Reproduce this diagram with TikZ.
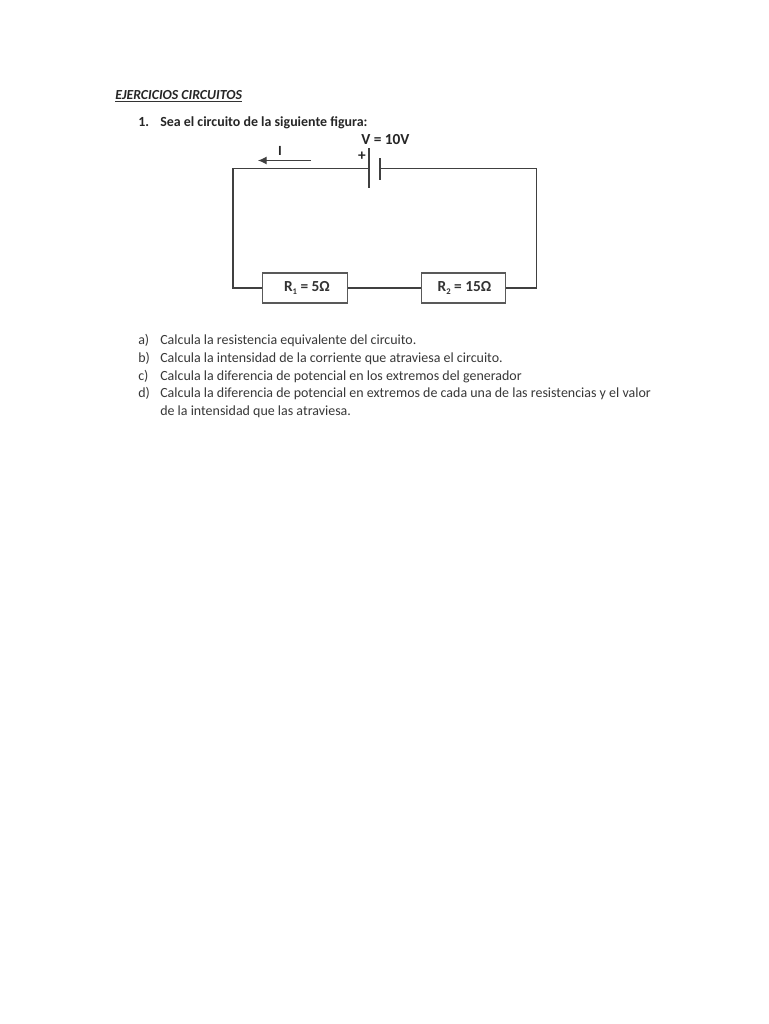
\documentclass[tikz,border=0pt]{standalone}
\usepackage{fontspec}
\setmainfont{Carlito}
\usetikzlibrary{arrows.meta}
\newcommand{\subnum}[1]{\raisebox{-0.35ex}{\fontsize{6.5}{8}\selectfont #1}}
\tikzset{
  x=0.75pt, y=-0.75pt,
  wire/.style={draw=black!75, line width=0.8pt},
  resbox/.style={draw=black!65, line width=0.8pt, fill=white, minimum width=63.5pt, minimum height=22.5pt, inner sep=0pt, font=\fontsize{11.5}{13}\selectfont\bfseries, text=black!80},
  body/.style={anchor=base west, inner sep=0pt, font=\fontsize{10.48}{13}\selectfont, text=black!78},
  head/.style={anchor=base west, inner sep=0pt, font=\fontsize{10.45}{13}\selectfont\bfseries, text=black!85},
  lab/.style={anchor=base, inner sep=0pt, text=black!85, font=\fontsize{11.5}{13}\selectfont\bfseries}
}
\begin{document}
\begin{tikzpicture}
\useasboundingbox (0,0) rectangle (768,1024);
\fill[white] (0,0) rectangle (768,1024);
% headings
\node[head,font=\fontsize{10.35}{13}\selectfont\bfseries\itshape] (title) at (115,99) {EJERCICIOS CIRCUITOS};
\draw[black!80,line width=0.7pt] ([yshift=-2.2pt]title.base west) -- ([yshift=-2.2pt]title.base east);
\node[head] (n1) at (138,126) {1.};
\node[head] (q1) at (160,126) {Sea el circuito de la siguiente figura:};
% circuit
\node[lab,anchor=base west] (volt) at (361,144) {V = 10V};
\node[lab] (plus) at (362,160) {+};
\node[lab,font=\fontsize{10.5}{11}\selectfont\bfseries] (cur) at (280,155) {I};
\node[resbox] (r1) at (305,288) {\hspace{3pt}R\subnum{1} = 5Ω};
\node[resbox] (r2) at (463.5,288) {\hspace{1.5pt}\raisebox{0.9pt}{R\subnum{2} = 15Ω}};
\coordinate (tl) at (233,168.5);
\coordinate (tr) at (536.5,168.5);
\coordinate (bl) at (233,288);
\coordinate (br) at (536.5,288);
\coordinate (bp1) at (369,168.5);
\coordinate (bp2) at (380,168.5);
\coordinate (bp1t) at (369,148);
\coordinate (bp1b) at (369,188);
\coordinate (bp2t) at (380,158);
\coordinate (bp2b) at (380,180);
\coordinate (as) at (311,160.5);
\coordinate (ae) at (258,160.5);
\draw[wire] (bp1) -- (tl) -- (bl) -- (r1.west);
\draw[wire] (r1.east) -- (r2.west);
\draw[wire] (r2.east) -- (br) -- (tr) -- (bp2);
\draw[wire] (bp1t) -- (bp1b);
\draw[wire] (bp2t) -- (bp2b);
\draw[wire,-{Latex[length=6.5pt,width=6pt]}] (as) -- (ae);
% questions
\node[body] (la) at (138,344.5) {a)};
\node[body] (ta) at (160,344.5) {Calcula la resistencia equivalente del circuito.};
\node[body] (lb) at (138,362) {b)};
\node[body] (tb) at (160,362) {Calcula la intensidad de la corriente que atraviesa el circuito.};
\node[body] (lc) at (138,380) {c)};
\node[body] (tc) at (160,380) {Calcula la diferencia de potencial en los extremos del generador};
\node[body] (ld) at (138,397.5) {d)};
\node[body] (td) at (160,397.5) {Calcula la diferencia de potencial en extremos de cada una de las resistencias y el valor};
\node[body] (te) at (160,415) {de la intensidad que las atraviesa.};
\end{tikzpicture}
\end{document}
